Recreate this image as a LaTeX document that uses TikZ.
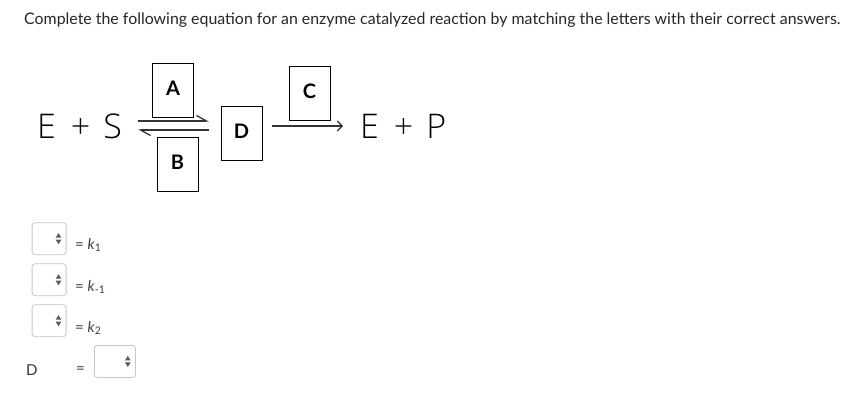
\documentclass[tikz,border=0pt]{standalone}
\usepackage{fontspec}
\setmainfont{Lato}
\newfontfamily\eqfont{Open Sans Light}[BoldFont={Open Sans}]
\usetikzlibrary{arrows.meta}
\begin{document}
\begin{tikzpicture}[x=1pt,y=-1pt,
  ansbox/.style={draw=black,line width=0.9pt,minimum width=41pt,minimum height=54pt,inner sep=0pt,font=\fontsize{20}{22}\selectfont\bfseries},
  dropbox/.style={draw=gray!45,line width=0.8pt,rounded corners=3pt,minimum width=34pt,minimum height=32pt,inner sep=0pt},
  eqtext/.style={font=\eqfont\fontsize{34}{36}\selectfont,inner sep=0pt},
  lowtext/.style={font=\fontsize{15}{17}\selectfont,inner sep=0pt},
  rxn/.style={line width=1.3pt,draw=black!80}]
\useasboundingbox[fill=white] (0,0) rectangle (848,402);
% title
\node[anchor=west,inner sep=0pt,font=\fontsize{15.9}{18}\selectfont,text=black!85] (title) at (24,20) {Complete the following equation for an enzyme catalyzed reaction by matching the letters with their correct answers.};
% equation
\node[eqtext,anchor=west] (ES) at (37,126) {E\hspace{15pt}+\hspace{13pt}S};
\node[eqtext,anchor=west] (EP) at (360,126) {E\hspace{15pt}+\hspace{13pt}P};
\node[ansbox,anchor=north west] (A) at (152,63) {\raisebox{4pt}{A}};
\node[ansbox,anchor=north west,yshift=0pt] (B) at (156.5,137) {\raisebox{4pt}{B}};
\node[ansbox,anchor=north west] (D) at (220.5,105.5) {\raisebox{4pt}{D}};
\node[ansbox,anchor=north west] (C) at (288.5,65.5) {\raisebox{4pt}{C}};
\coordinate (f1) at (138,121);
\coordinate (f2) at (209,121);
\coordinate (r1) at (209,130);
\coordinate (r2) at (138,130);
\coordinate (p1) at (272,126);
\coordinate (p2) at (343,126);
\draw[rxn,-{Straight Barb[left,length=10pt,width=11pt]}] (f1) -- (f2);
\draw[rxn,-{Straight Barb[left,length=10pt,width=11pt]}] (r1) -- (r2);
\draw[rxn,line width=1.1pt,-{Straight Barb[length=5pt,width=10pt]}] (p1) -- (p2);
% dropdowns
\tikzset{spin/.pic={
  \fill[black!65] (-2.8,-1) -- (2.8,-1) -- (0,-5.5) -- cycle;
  \fill[black!65] (-2.8,1) -- (2.8,1) -- (0,5.5) -- cycle;}}
\node[dropbox,anchor=north west] (d1) at (31.7,222.3) {};
\node[dropbox,anchor=north west] (d2) at (31.7,263.3) {};
\node[dropbox,anchor=north west] (d3) at (31.7,304.3) {};
\node[dropbox,anchor=north west,minimum width=41pt] (d4) at (94,345) {};
\pic at ([xshift=-8pt]d1.east) {spin};
\pic at ([xshift=-8pt]d2.east) {spin};
\pic at ([xshift=-8pt]d3.east) {spin};
\pic at ([xshift=-8pt]d4.east) {spin};
\node[lowtext,anchor=west,text=black!75] (k1) at (75,245) {= \textit{k}\textsubscript{1}};
\node[lowtext,anchor=west,text=black!75] (k2) at (75,287) {= \textit{k}\textsubscript{-1}};
\node[lowtext,anchor=west,text=black!75] (k3) at (75,328) {= \textit{k}\textsubscript{2}};
\node[lowtext,anchor=west,text=black!80] (Dl) at (26,370) {D};
\node[lowtext,anchor=west,text=black!75] (eq4) at (76,370) {=};
\end{tikzpicture}
\end{document}
